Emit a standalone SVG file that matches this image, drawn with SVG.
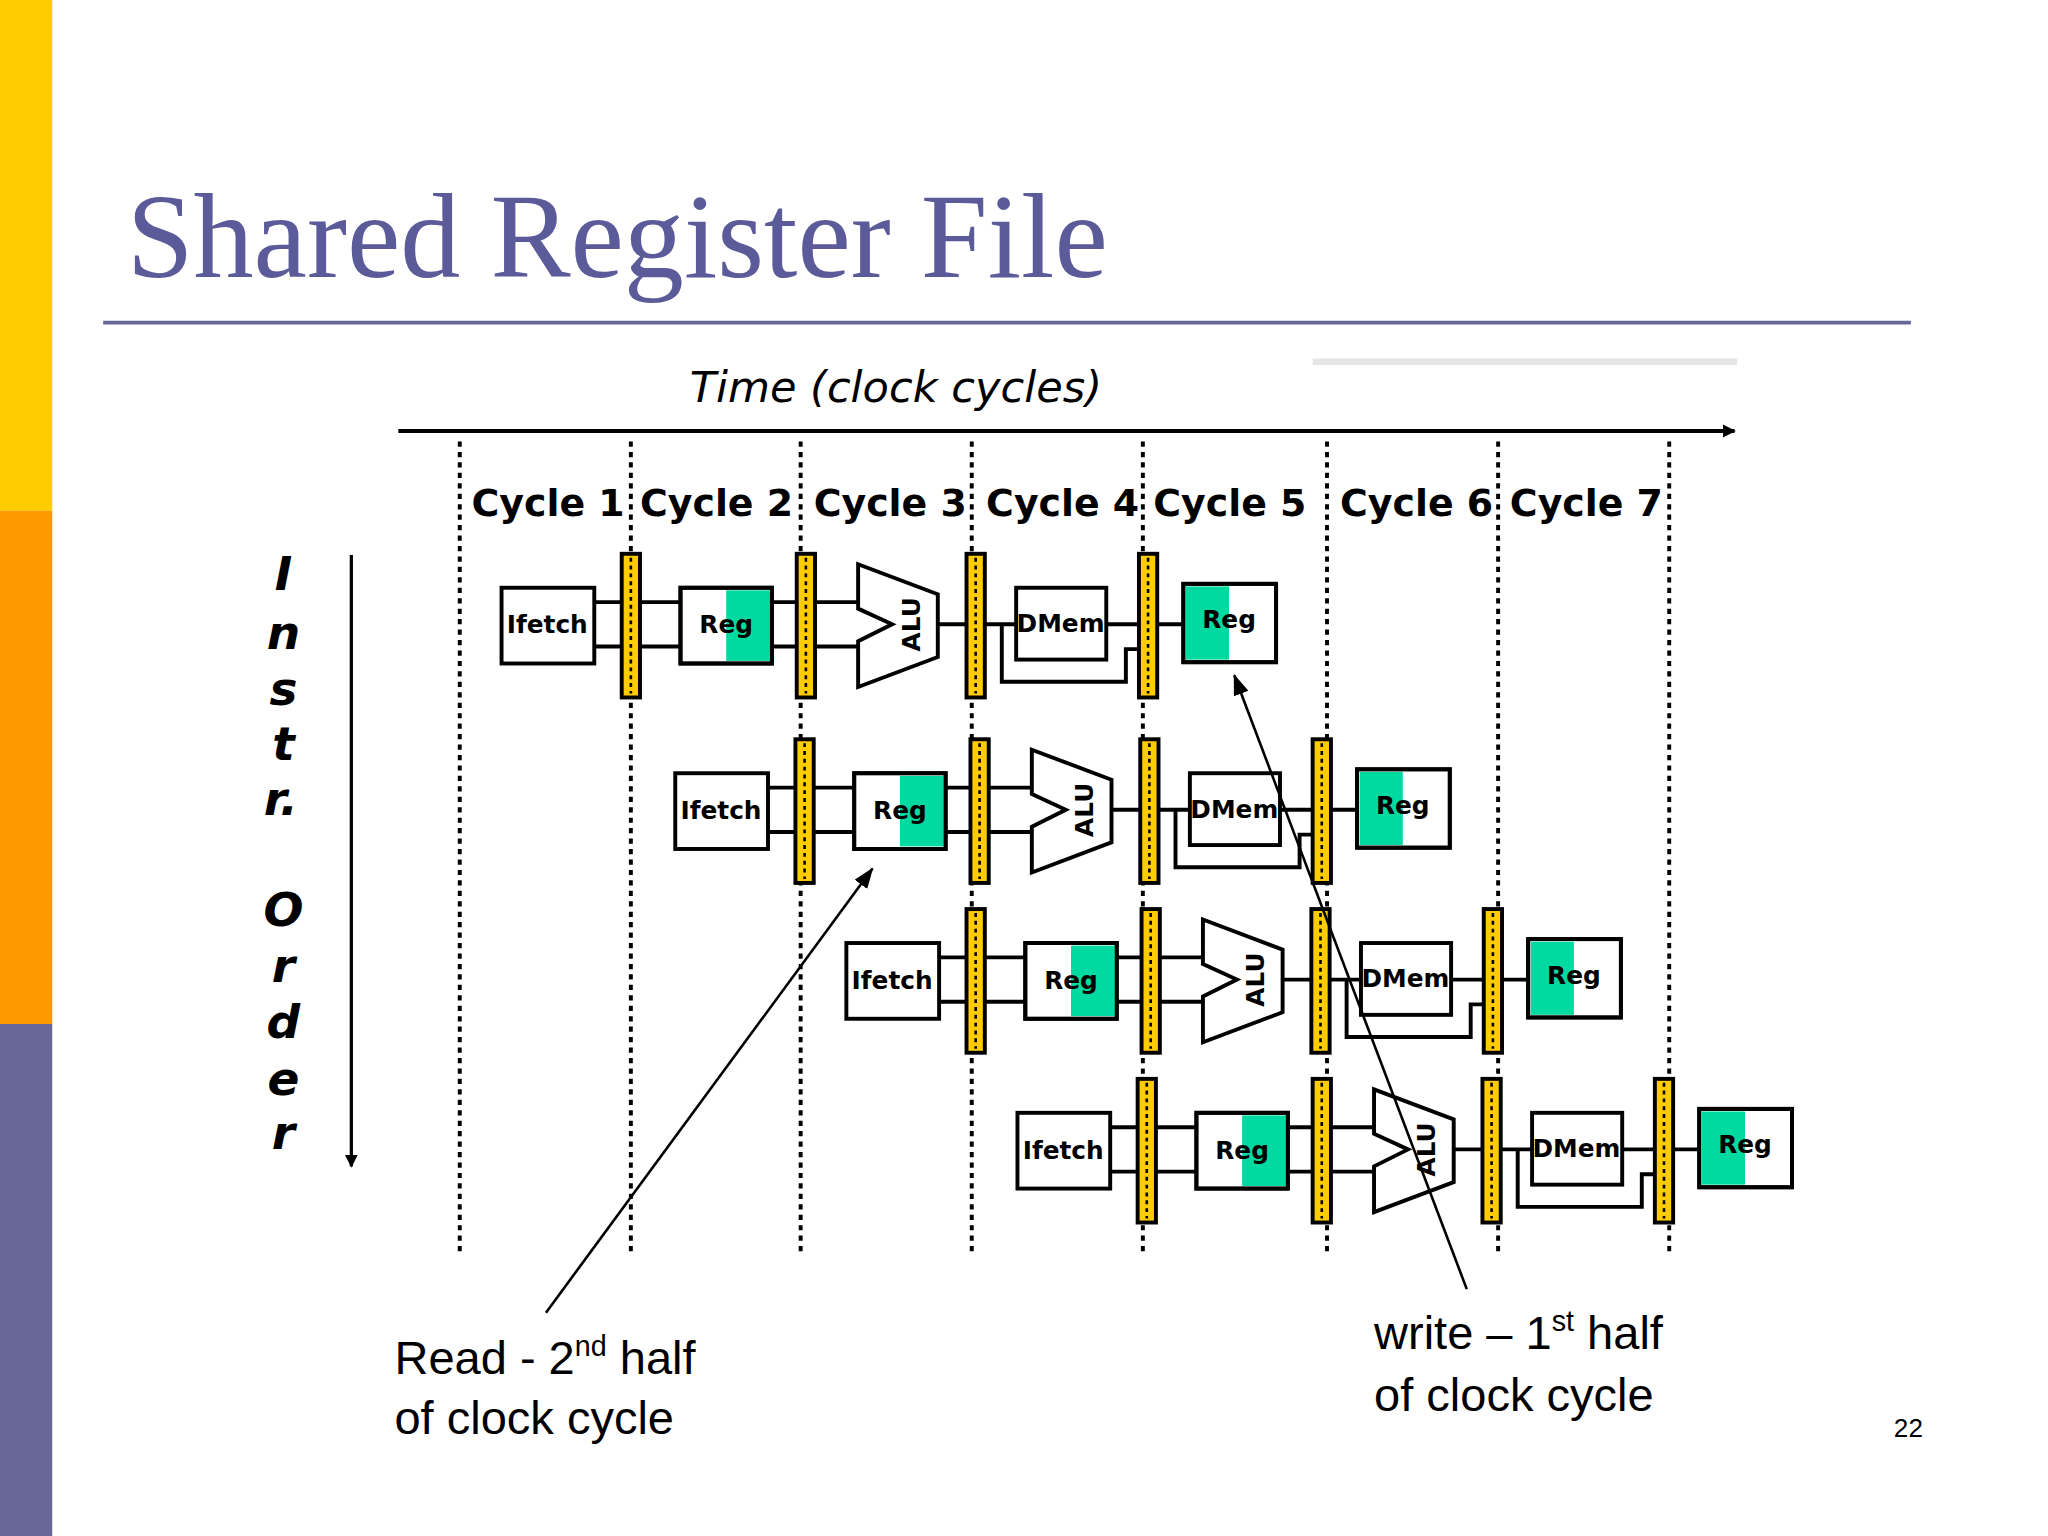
<svg xmlns="http://www.w3.org/2000/svg" width="2048" height="1536" viewBox="0 0 2048 1536">
<defs>
<style>
.box{fill:#fff;stroke:#000;stroke-width:3}
.w{stroke:#000;stroke-width:3;fill:none}
.lbl{font-family:"DejaVu Sans",sans-serif;font-size:19px;font-weight:bold;fill:#000}
.cyc{font-family:"DejaVu Sans",sans-serif;font-size:29px;font-weight:bold;fill:#000}
.io{font-family:"DejaVu Sans",sans-serif;font-size:36px;font-weight:bold;font-style:italic;fill:#000}
.note{font-family:"Liberation Sans",Arial,sans-serif;font-size:36px;fill:#000}
.dash{stroke:#000;stroke-width:3;stroke-dasharray:4 4}
</style>
<marker id="ah" markerWidth="10" markerHeight="10" refX="9" refY="5" orient="auto" markerUnits="userSpaceOnUse"><path d="M0,0 L10,5 L0,10 z" fill="#000"/></marker>
<marker id="ah2" markerWidth="16" markerHeight="12" refX="15" refY="6" orient="auto" markerUnits="userSpaceOnUse"><path d="M0,0 L16,6 L0,12 z" fill="#000"/></marker>
<g id="latch"><rect x="-7" y="-55" width="14" height="110" fill="#FFCC00" stroke="#000" stroke-width="3"/><line x1="0" y1="-52" x2="0" y2="52" stroke="#000" stroke-width="2" stroke-dasharray="3 3"/></g>
<g id="row">
<line class="w" x1="455" y1="-17" x2="521" y2="-17"/><line class="w" x1="455" y1="17" x2="521" y2="17"/>
<line class="w" x1="591" y1="-17" x2="657" y2="-17"/><line class="w" x1="591" y1="17" x2="657" y2="17"/>
<line class="w" x1="718" y1="0" x2="778" y2="0"/><line class="w" x1="847" y1="0" x2="906" y2="0"/>
<path class="w" d="M767,0 V44 H862 V19 H879"/>
<rect class="box" x="384" y="-28" width="71" height="58"/>
<text class="lbl" x="419" y="7" text-anchor="middle">Ifetch</text>
<rect class="box" x="521" y="-28" width="70" height="58"/><rect x="556" y="-26" width="34" height="54" fill="#00D9A0"/><rect x="521" y="-28" width="70" height="58" fill="none" stroke="#000" stroke-width="3"/>
<text class="lbl" x="556" y="7" text-anchor="middle">Reg</text>
<path class="box" d="M657,-46 L718,-23 L718,25 L657,48 L657,13 L683,0 L657,-12 Z"/>
<text class="lbl" transform="translate(704,0) rotate(-90)" text-anchor="middle">ALU</text>
<rect class="box" x="778" y="-28" width="69" height="55"/>
<text class="lbl" x="812" y="6" text-anchor="middle">DMem</text>
<rect class="box" x="906" y="-31" width="71" height="60"/><rect x="908" y="-29" width="33" height="56" fill="#00D9A0"/><rect x="906" y="-31" width="71" height="60" fill="none" stroke="#000" stroke-width="3"/>
<text class="lbl" x="941" y="3" text-anchor="middle">Reg</text>
<use href="#latch" x="483" y="1"/><use href="#latch" x="617" y="1"/><use href="#latch" x="747" y="1"/><use href="#latch" x="879" y="1"/>
</g>
</defs>
<rect width="2048" height="1536" fill="#fff"/>
<g transform="scale(1.30612)">
<g id="sidebar"><rect x="0" y="0" width="40" height="391" fill="#FFCC00"/><rect x="0" y="391" width="40" height="393" fill="#FF9900"/><rect x="0" y="784" width="40" height="392" fill="#666699"/></g>
<text x="97" y="212" font-family="Liberation Serif,serif" font-size="92" fill="#5B5B9A">Shared Register File</text>
<line x1="79" y1="247" x2="1463" y2="247" stroke="#666699" stroke-width="3"/>
<line x1="1005" y1="277" x2="1330" y2="277" stroke="#e6e6e6" stroke-width="5"/>
<text x="528" y="308" font-family="DejaVu Sans,sans-serif" font-style="italic" font-size="33" fill="#000">Time (clock cycles)</text>
<g id="connectors">
<line x1="305" y1="330" x2="1328" y2="330" stroke="#000" stroke-width="3" marker-end="url(#ah)"/>
<line x1="269" y1="425" x2="269" y2="893" stroke="#000" stroke-width="2.5" marker-end="url(#ah)"/>
<line class="dash" x1="352" y1="338" x2="352" y2="962"/><line class="dash" x1="483" y1="338" x2="483" y2="962"/>
<line class="dash" x1="613" y1="338" x2="613" y2="962"/><line class="dash" x1="744" y1="338" x2="744" y2="962"/>
<line class="dash" x1="875" y1="338" x2="875" y2="962"/><line class="dash" x1="1016" y1="338" x2="1016" y2="962"/>
<line class="dash" x1="1147" y1="338" x2="1147" y2="962"/><line class="dash" x1="1278" y1="338" x2="1278" y2="962"/>
</g>
<g id="cycles">
<text class="cyc" x="361" y="395">Cycle 1</text><text class="cyc" x="490" y="395">Cycle 2</text>
<text class="cyc" x="623" y="395">Cycle 3</text><text class="cyc" x="755" y="395">Cycle 4</text>
<text class="cyc" x="883" y="395">Cycle 5</text><text class="cyc" x="1026" y="395">Cycle 6</text>
<text class="cyc" x="1156" y="395">Cycle 7</text>
</g>
<g id="instr-order" text-anchor="middle">
<text class="io" x="217" y="452">I</text><text class="io" x="217" y="497">n</text><text class="io" x="217" y="540">s</text>
<text class="io" x="217" y="582">t</text><text class="io" x="215" y="624">r.</text><text class="io" x="217" y="709">O</text>
<text class="io" x="217" y="752">r</text><text class="io" x="217" y="795">d</text><text class="io" x="217" y="838">e</text><text class="io" x="217" y="880">r</text>
</g>
<g id="row1"><use href="#row" x="0" y="478"/></g>
<g id="row2"><use href="#row" x="133" y="620"/></g>
<g id="row3"><use href="#row" x="264" y="750"/></g>
<g id="row4"><use href="#row" x="395" y="880"/></g>
<g id="annotations">
<line x1="418" y1="1005" x2="668" y2="665" stroke="#000" stroke-width="2" marker-end="url(#ah2)"/>
<line x1="1123" y1="987" x2="945" y2="517" stroke="#000" stroke-width="2" marker-end="url(#ah2)"/>
<text class="note" x="302" y="1052">Read - 2<tspan font-size="22" dy="-14">nd</tspan><tspan dy="14"> half</tspan></text>
<text class="note" x="302" y="1098">of clock cycle</text>
<text class="note" x="1052" y="1033">write – 1<tspan font-size="22" dy="-14">st</tspan><tspan dy="14"> half</tspan></text>
<text class="note" x="1052" y="1080">of clock cycle</text>
<text x="1450" y="1100" font-family="Liberation Sans,sans-serif" font-size="20">22</text>
</g>
</g>
</svg>
